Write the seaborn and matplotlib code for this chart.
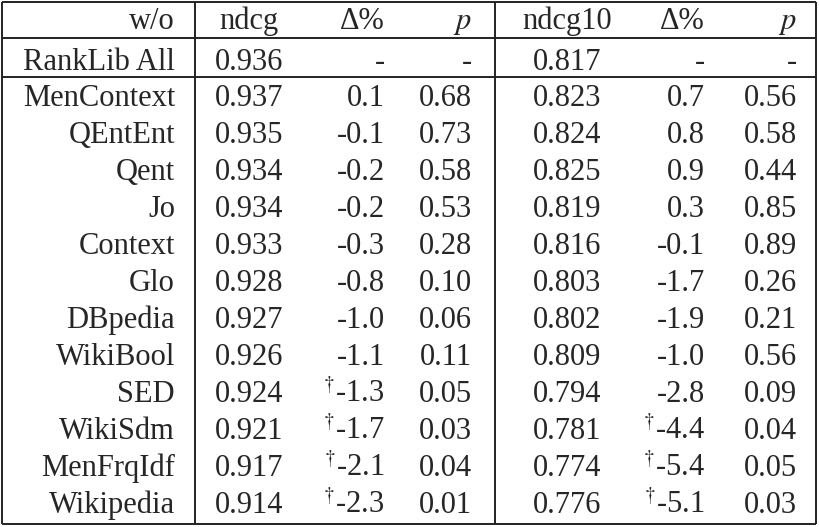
import pandas as pd
import matplotlib
matplotlib.use("Agg")
import matplotlib.pyplot as plt
import seaborn as sns

# Table contents
features = ["RankLib All", "MenContext", "QEntEnt", "Qent", "Jo", "Context", "Glo",
            "DBpedia", "WikiBool", "SED", "WikiSdm", "MenFrqIdf", "Wikipedia"]
ndcg = [0.936, 0.937, 0.935, 0.934, 0.934, 0.933, 0.928, 0.927, 0.926, 0.924, 0.921, 0.917, 0.914]
ndcg_delta = [None, 0.1, -0.1, -0.2, -0.2, -0.3, -0.8, -1.0, -1.1, -1.3, -1.7, -2.1, -2.3]
ndcg_p = [None, 0.68, 0.73, 0.58, 0.53, 0.28, 0.10, 0.06, 0.11, 0.05, 0.03, 0.04, 0.01]
ndcg_sig = [False, False, False, False, False, False, False, False, False, True, True, True, True]
ndcg10 = [0.817, 0.823, 0.824, 0.825, 0.819, 0.816, 0.803, 0.802, 0.809, 0.794, 0.781, 0.774, 0.776]
ndcg10_delta = [None, 0.7, 0.8, 0.9, 0.3, -0.1, -1.7, -1.9, -1.0, -2.8, -4.4, -5.4, -5.1]
ndcg10_p = [None, 0.56, 0.58, 0.44, 0.85, 0.89, 0.26, 0.21, 0.56, 0.09, 0.04, 0.05, 0.03]
ndcg10_sig = [False, False, False, False, False, False, False, False, False, False, True, True, True]

headers = ["w/o", "ndcg", "Δ%", "$p$", "ndcg10", "Δ%", "$p$"]


def fmt_delta(v, sig):
    if v is None:
        return "-"
    s = f"{v:.1f}"
    return r"$^{\dagger}$" + s if sig else s


def fmt_p(v):
    return "-" if v is None else f"{v:.2f}"


df = pd.DataFrame({
    "w/o": features,
    "ndcg": [f"{v:.3f}" for v in ndcg],
    "d1": [fmt_delta(v, s) for v, s in zip(ndcg_delta, ndcg_sig)],
    "p1": [fmt_p(v) for v in ndcg_p],
    "ndcg10": [f"{v:.3f}" for v in ndcg10],
    "d2": [fmt_delta(v, s) for v, s in zip(ndcg10_delta, ndcg10_sig)],
    "p2": [fmt_p(v) for v in ndcg10_p],
})

sns.set_theme(style="white")
plt.rcParams['font.family'] = ['Liberation Serif', 'DejaVu Serif']
plt.rcParams['mathtext.fontset'] = 'stix'

# layout (pixel units)
col_x = [175, 249, 385, 472, 567, 705, 797]
col_ha = ["right", "center", "right", "right", "center", "right", "right"]
v_lines = [2, 195, 495, 816]
h_rules = [2, 38, 77, 524]
header_base = 29
first_base = 70
body_base = 106
pitch = 37.0

fig = plt.figure(figsize=(8.19, 5.27), dpi=100)
ax = fig.add_axes([0, 0, 1, 1])
ax.set_xlim(0, 819)
ax.set_ylim(527, 0)
ax.axis("off")

fs = 22
for j, h in enumerate(headers):
    ax.text(col_x[j], header_base, h, ha=col_ha[j], va="baseline", fontsize=fs)

for i, row in enumerate(df.itertuples(index=False)):
    y = first_base if i == 0 else body_base + (i - 1) * pitch
    for j, val in enumerate(row):
        ax.text(col_x[j], y, val, ha=col_ha[j], va="baseline", fontsize=fs)

ax.vlines(v_lines, h_rules[0], h_rules[-1], color="#222222", lw=1.4)
ax.hlines(h_rules, v_lines[0], v_lines[-1], color="#222222", lw=1.4)

fig.savefig("out.png", dpi=100)
plt.close(fig)
